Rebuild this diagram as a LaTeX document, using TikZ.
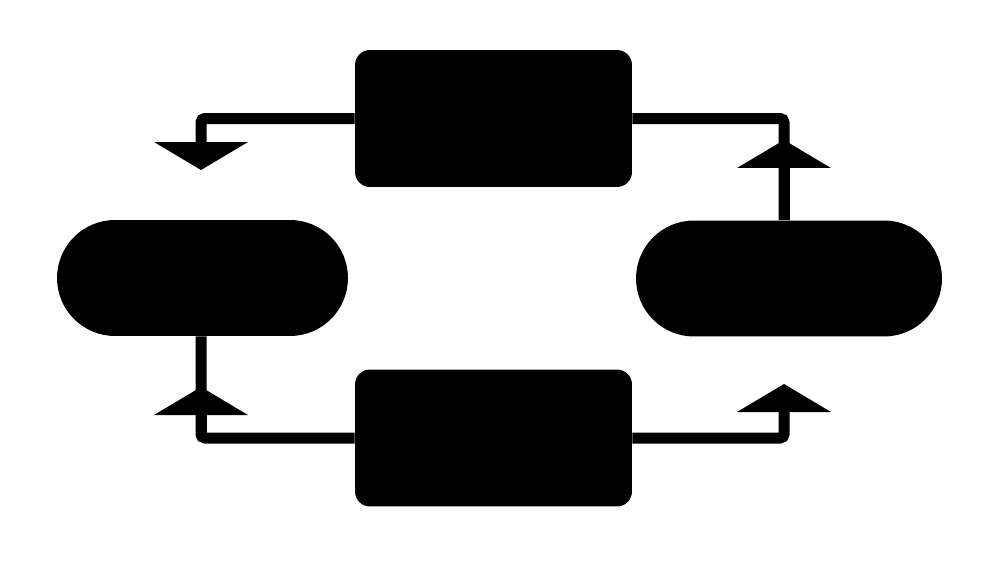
\documentclass[tikz,border=0pt]{standalone}
\usetikzlibrary{arrows.meta,positioning}

\tikzset{
  box/.style={fill=black, minimum width=5.54cm, minimum height=2.74cm, rounded corners=0.3cm},
  pill/.style={fill=black, minimum height=2.32cm, rounded corners=1.16cm},
  link/.style={draw=black, line width=0.22cm, rounded corners=0.08cm},
  head/.style={-{Triangle[width=1.88cm,length=0.56cm,line width=0pt]}}
}

\begin{document}
\begin{tikzpicture}[x=0.02cm,y=-0.02cm]

        \path[fill=white, use as bounding box] (0,0) rectangle (1000,565);

        % the four blocks
        \node[box] (top)    at (493.5,118.5) {};
        \node[box] (bottom) at (493.5,438)   {};
        \node[pill, minimum width=5.82cm] (left)  at (202.5,278) {};
        \node[pill, minimum width=6.12cm] (right) at (789,278.5) {};

        % arrow tips
        \coordinate (tl) at (201,170);
        \coordinate (tr) at (784,140);
        \coordinate (bl) at (201,387);
        \coordinate (br) at (784,384);

        \draw[link, head] (top.west) -| (tl);
        \draw[link] (tr |- right.north) |- (top.east);
        \draw[link, head] (tr |- right.north) -- (tr);
        \draw[link] (bl |- left.south) |- (bottom.west);
        \draw[link, head] (bl |- bottom.west) -- (bl);
        \draw[link, head] (bottom.east) -| (br);

\end{tikzpicture}
\end{document}
